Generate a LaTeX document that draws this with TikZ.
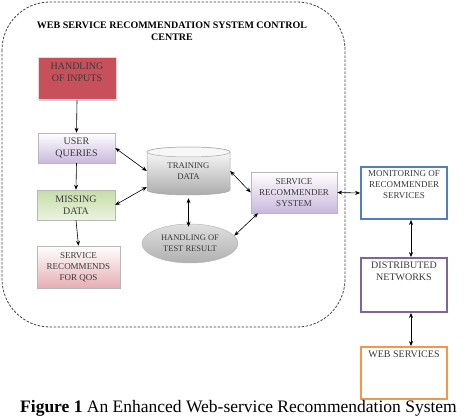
\documentclass[tikz,border=0pt]{standalone}
\usepackage{fontspec}
\setmainfont{Liberation Serif}
\usetikzlibrary{shapes.geometric,arrows.meta,shadows}
\definecolor{hoired}{HTML}{C8505A}
\definecolor{txtgray}{HTML}{3A3A3A}
\definecolor{bordgray}{HTML}{B8B8B8}
\definecolor{lav}{HTML}{C9B8DD}
\definecolor{grn}{HTML}{C5DDA8}
\definecolor{grnlt}{HTML}{EAF3DF}
\definecolor{pnk}{HTML}{E6AEB3}
\definecolor{monblue}{HTML}{4F81BD}
\definecolor{dnpurple}{HTML}{8064A2}
\definecolor{wsorange}{HTML}{F79646}
\begin{document}
\begin{tikzpicture}[x=1pt,y=-1pt,
  txt/.style={text=txtgray, align=center, font=\fontsize{9}{11}\selectfont},
  txtb/.style={text=txtgray, align=center, font=\fontsize{10}{12}\selectfont},
  shbox/.style={draw=bordgray, line width=0.5pt, inner sep=0pt,
    drop shadow={fill=black!35, opacity=0.5, shadow xshift=1.2pt, shadow yshift=-1.2pt}},
  outbox/.style={line width=1.8pt, fill=white, inner sep=0pt, minimum width=86pt},
  arr/.style={line width=0.6pt, -{Stealth[length=5pt,width=4pt]}},
  darr/.style={line width=0.6pt, {Stealth[length=5pt,width=4pt]}-{Stealth[length=5pt,width=4pt]}}
]
\useasboundingbox (0,0) rectangle (474,417);

% control centre boundary
\draw[dash pattern=on 2.5pt off 1.5pt, line width=0.8pt, draw=black!75, rounded corners=48pt]
  (2,2) rectangle (345,327);

\node[font=\bfseries\fontsize{10}{12}\selectfont, align=center, inner sep=0pt] (title) at (172,31)
  {WEB SERVICE RECOMMENDATION SYSTEM CONTROL\\CENTRE};

% left column
\node[shbox, draw=white!75!hoired, line width=1pt, fill=hoired, minimum width=78pt, minimum height=42pt,
  label={[txtb, anchor=north, inner sep=0pt, yshift=-5pt]north:{HANDLING\\OF INPUTS}}] (hoi) at (77,79) {};
\node[shbox, top color=white, bottom color=lav, minimum width=77pt, minimum height=30pt, txtb] (uq) at (76.5,148) {USER\\QUERIES};
\node[shbox, top color=grn, bottom color=grnlt, minimum width=78pt, minimum height=30pt, txtb] (md) at (76,205) {MISSING\\DATA};
\node[shbox, top color=white, bottom color=pnk, minimum width=83pt, minimum height=42pt, txt] (sr) at (78.5,267) {SERVICE\\RECOMMENDS\\FOR QOS};

% training data cylinder
\shade[top color=white, bottom color=gray!65, draw=gray!70, line width=0.5pt]
  (147,152) -- (147,190) arc[start angle=180, end angle=360, x radius=41.5pt, y radius=5pt]
  -- (230,152) arc[start angle=0, end angle=180, x radius=41.5pt, y radius=5pt] -- cycle;
\draw[fill=gray!6, draw=gray!70, line width=0.5pt] (188.5,152) ellipse[x radius=41.5pt, y radius=5pt];
\node[minimum width=83pt, minimum height=48pt, inner sep=0pt, txt, font=\fontsize{8.7}{11}\selectfont] (td) at (188.5,171) {TRAINING\\DATA};

% test result ellipse
\node[ellipse, top color=gray!25, bottom color=gray!62, draw=gray!55, line width=0.5pt, inner sep=0pt,
  minimum width=96pt, minimum height=39pt, txt, font=\fontsize{8.5}{11}\selectfont] (ell) at (190,243.5) {HANDLING OF\\TEST RESULT};

% service recommender system
\node[shbox, top color=white, bottom color=lav, minimum width=86pt, minimum height=41pt, txt] (srs) at (294,192.5) {SERVICE\\RECOMMENDER\\SYSTEM};

% right column
\node[outbox, draw=monblue, minimum height=52pt,
  label={[txt, anchor=north, inner sep=0pt, yshift=-4pt]north:{MONITORING OF\\RECOMMENDER\\SERVICES}}] (mon) at (404,193) {};
\node[outbox, draw=dnpurple, minimum height=54pt,
  label={[txtb, anchor=north, inner sep=0pt, yshift=-5pt]north:{DISTRIBUTED\\NETWORKS}}] (dn) at (404,285) {};
\node[outbox, draw=wsorange, minimum height=52pt,
  label={[txtb, anchor=north, inner sep=0pt, yshift=-5pt]north:{WEB SERVICES}}] (ws) at (404,373) {};

% connectors
\draw[arr] (hoi.south) -- (uq.north);
\draw[arr] (uq.south) -- (md.north);
\draw[arr] (md.south) -- (sr.north);
\draw[darr] (uq.east) -- (td.west);
\draw[darr] (md.east) -- (td.201);
\draw[darr] ([yshift=-3pt]td.south) -- ([yshift=-3pt]td.south |- ell.north);
\draw[darr] (td.east) -- (srs.west);
\draw[darr] (srs.210) -- (ell.10);
\draw[darr] (srs.east) -- (mon.west);
\draw[darr] ([xshift=7pt]mon.south) -- ([xshift=7pt]dn.north);
\draw[darr] ([xshift=7pt]dn.south) -- ([xshift=7pt]ws.north);

% caption
\node[anchor=base west, inner sep=0pt, font=\fontsize{17.5}{21}\selectfont] (cap) at (20,412.5)
  {\textbf{Figure 1} An Enhanced Web-service Recommendation System};
\end{tikzpicture}
\end{document}
